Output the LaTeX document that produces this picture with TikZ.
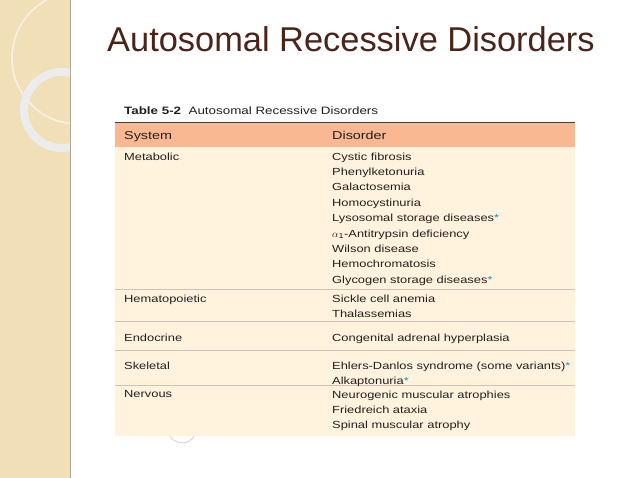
\documentclass[tikz,border=0pt]{standalone}
\usepackage{fontspec}
\setmainfont{Liberation Sans}
\newfontfamily\tf[FakeStretch=1.25]{Liberation Sans}
\definecolor{beige}{HTML}{F1DFB8}
\definecolor{cream}{HTML}{FFF3DE}
\definecolor{hdr}{HTML}{F9B892}
\definecolor{titlec}{HTML}{4A2418}
\definecolor{txt}{HTML}{231F20}
\definecolor{star}{HTML}{1F8FC8}
\begin{document}
\begin{tikzpicture}[x=1pt,y=-1pt,
  cell/.style={anchor=north west,inner sep=0pt,font=\tf\fontsize{10.3}{15.4}\selectfont,text=txt,align=left},
  sep/.style={draw=white!70!black!60!beige,line width=1pt}]
\useasboundingbox (0,0) rectangle (638,478);
\fill[white] (0,0) rectangle (638,478);
\fill[beige] (0,0) rectangle (70,478);
\begin{scope}
\clip (0,0) rectangle (70,478);
\draw[white!60!beige,line width=1.5pt] (78,58) circle (66);
\draw[white!85!gray,line width=8pt] (62,110) circle (38);
\end{scope}
\draw[gray!60!beige,line width=1pt] (70,0) -- (70,478);
\node[anchor=base west,inner sep=0pt,text=titlec,font=\fontsize{34.4}{36}\selectfont] (title) at (107,52) {Autosomal Recessive Disorders};
\node[anchor=base west,inner sep=0pt,font=\tf\fontsize{10.7}{12}\selectfont,text=txt] (cap) at (124,115) {\textbf{Table 5-2}\ \ Autosomal Recessive Disorders};
\fill[cream] (115,123) rectangle (575,436);
\fill[hdr] (115,123) rectangle (575,147);
\draw[black!75,line width=1.5pt] (115,122.5) -- (575,122.5);
\foreach \y in {290,322,351,386} \draw[sep] (115,\y) -- (575,\y);
\draw[black!15,line width=1pt] (170,436) arc (150:30:14);
\node[anchor=base west,inner sep=0pt,font=\tf\fontsize{11.5}{12}\selectfont,text=txt] (h1) at (124,140) {System};
\node[anchor=base west,inner sep=0pt,font=\tf\fontsize{11.5}{12}\selectfont,text=txt] (h2) at (332,140) {Disorder};
\node[cell] (s1) at (124,152.5) {Metabolic};
\node[cell] (d1) at (332,152.5) {Cystic fibrosis\\Phenylketonuria\\Galactosemia\\Homocystinuria\\Lysosomal storage diseases\textcolor{star}{*}\\$\alpha$\textsubscript{1}-Antitrypsin deficiency\\Wilson disease\\Hemochromatosis\\Glycogen storage diseases\textcolor{star}{*}};
\node[cell] (s2) at (124,294.5) {Hematopoietic};
\node[cell] (d2) at (332,294.5) {Sickle cell anemia\\Thalassemias};
\node[cell] (s3) at (124,333.5) {Endocrine};
\node[cell] (d3) at (332,333.5) {Congenital adrenal hyperplasia};
\node[cell] (s4) at (124,361.5) {Skeletal};
\node[cell] (d4) at (332,361.5) {Ehlers-Danlos syndrome (some variants)\textcolor{star}{*}\\Alkaptonuria\textcolor{star}{*}};
\node[cell] (s5) at (124,390.5) {Nervous};
\node[cell] (d5) at (332,390.5) {Neurogenic muscular atrophies\\Friedreich ataxia\\Spinal muscular atrophy};
\end{tikzpicture}
\end{document}
